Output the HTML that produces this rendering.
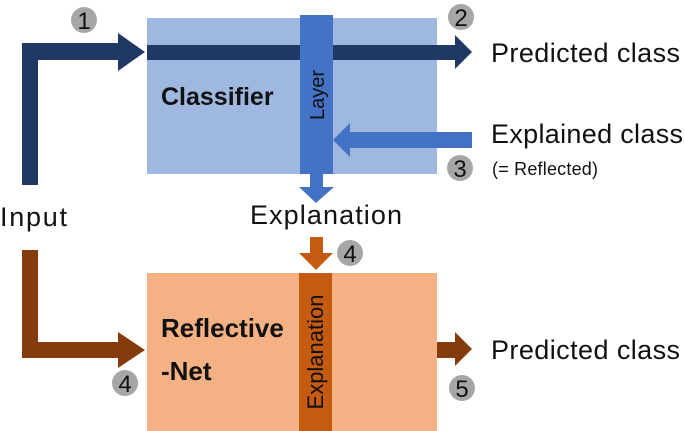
<!DOCTYPE html>
<html><head><style>
body{margin:0;background:#fff;width:685px;height:431px;overflow:hidden}
svg{display:block}
text{font-family:"Liberation Sans",sans-serif}
</style></head><body>
<svg width="685" height="431" viewBox="0 0 685 431">
<rect x="147" y="18" width="290" height="156" fill="#9fb8e0"/>
<rect x="147" y="273" width="290" height="158" fill="#f4b183"/>
<polygon points="22,185 38,185 38,60 118,60 118,71 145,52 118,33 118,43 22,43" fill="#203864"/>
<polygon points="147,45 455,45 455,35 472,52 455,69 455,60 147,60" fill="#203864"/>
<rect x="300" y="15" width="33" height="159" fill="#4472c4"/>
<rect x="310" y="173" width="13" height="15" fill="#4472c4"/>
<polygon points="299,187 334,187 316,203" fill="#4472c4"/>
<polygon points="472,132 350,132 350,123 333,140 350,157 350,148 472,148" fill="#4472c4"/>
<text transform="translate(324,95) rotate(-90)" font-size="20" fill="#111" text-anchor="middle">Layer</text>
<text x="161" y="105" font-size="25" font-weight="bold" fill="#111">Classifier</text>
<rect x="299" y="273" width="33" height="158" fill="#c55a11"/>
<polygon points="310,237 323,237 323,253 333,253 316,270 299,253 310,253" fill="#c55a11"/>
<text transform="translate(323,352) rotate(-90)" font-size="22" fill="#111" text-anchor="middle">Explanation</text>
<polygon points="22,250 38,250 38,342 118,342 118,332 145,350 118,368 118,358 22,358" fill="#843c0c"/>
<polygon points="437,342 455,342 455,332 472,349 455,366 455,358 437,358" fill="#843c0c"/>
<text x="161" y="337" font-size="26" font-weight="bold" fill="#111">Reflective</text>
<text x="161" y="380" font-size="26" font-weight="bold" fill="#111">-Net</text>
<g fill="#a6a6a6"><circle cx="84" cy="20" r="13"/><circle cx="461" cy="17" r="13"/><circle cx="460" cy="168" r="13"/><circle cx="350" cy="253" r="13"/><circle cx="125" cy="383" r="13"/><circle cx="462" cy="388" r="13"/></g>
<g font-size="24" fill="#111" text-anchor="middle"><text x="84" y="29">1</text><text x="461" y="26">2</text><text x="460" y="177">3</text><text x="350" y="262">4</text><text x="125" y="392">4</text><text x="462" y="397">5</text></g>
<g fill="#111" font-size="27"><text x="0" y="226" textLength="67">Input</text><text x="250" y="224" textLength="152">Explanation</text><text x="491" y="62" textLength="189">Predicted class</text><text x="491" y="143" textLength="192">Explained class</text><text x="491" y="359" textLength="189">Predicted class</text></g>
<text x="492" y="175" font-size="18" fill="#111" textLength="106">(= Reflected)</text>
</svg>
</body></html>
